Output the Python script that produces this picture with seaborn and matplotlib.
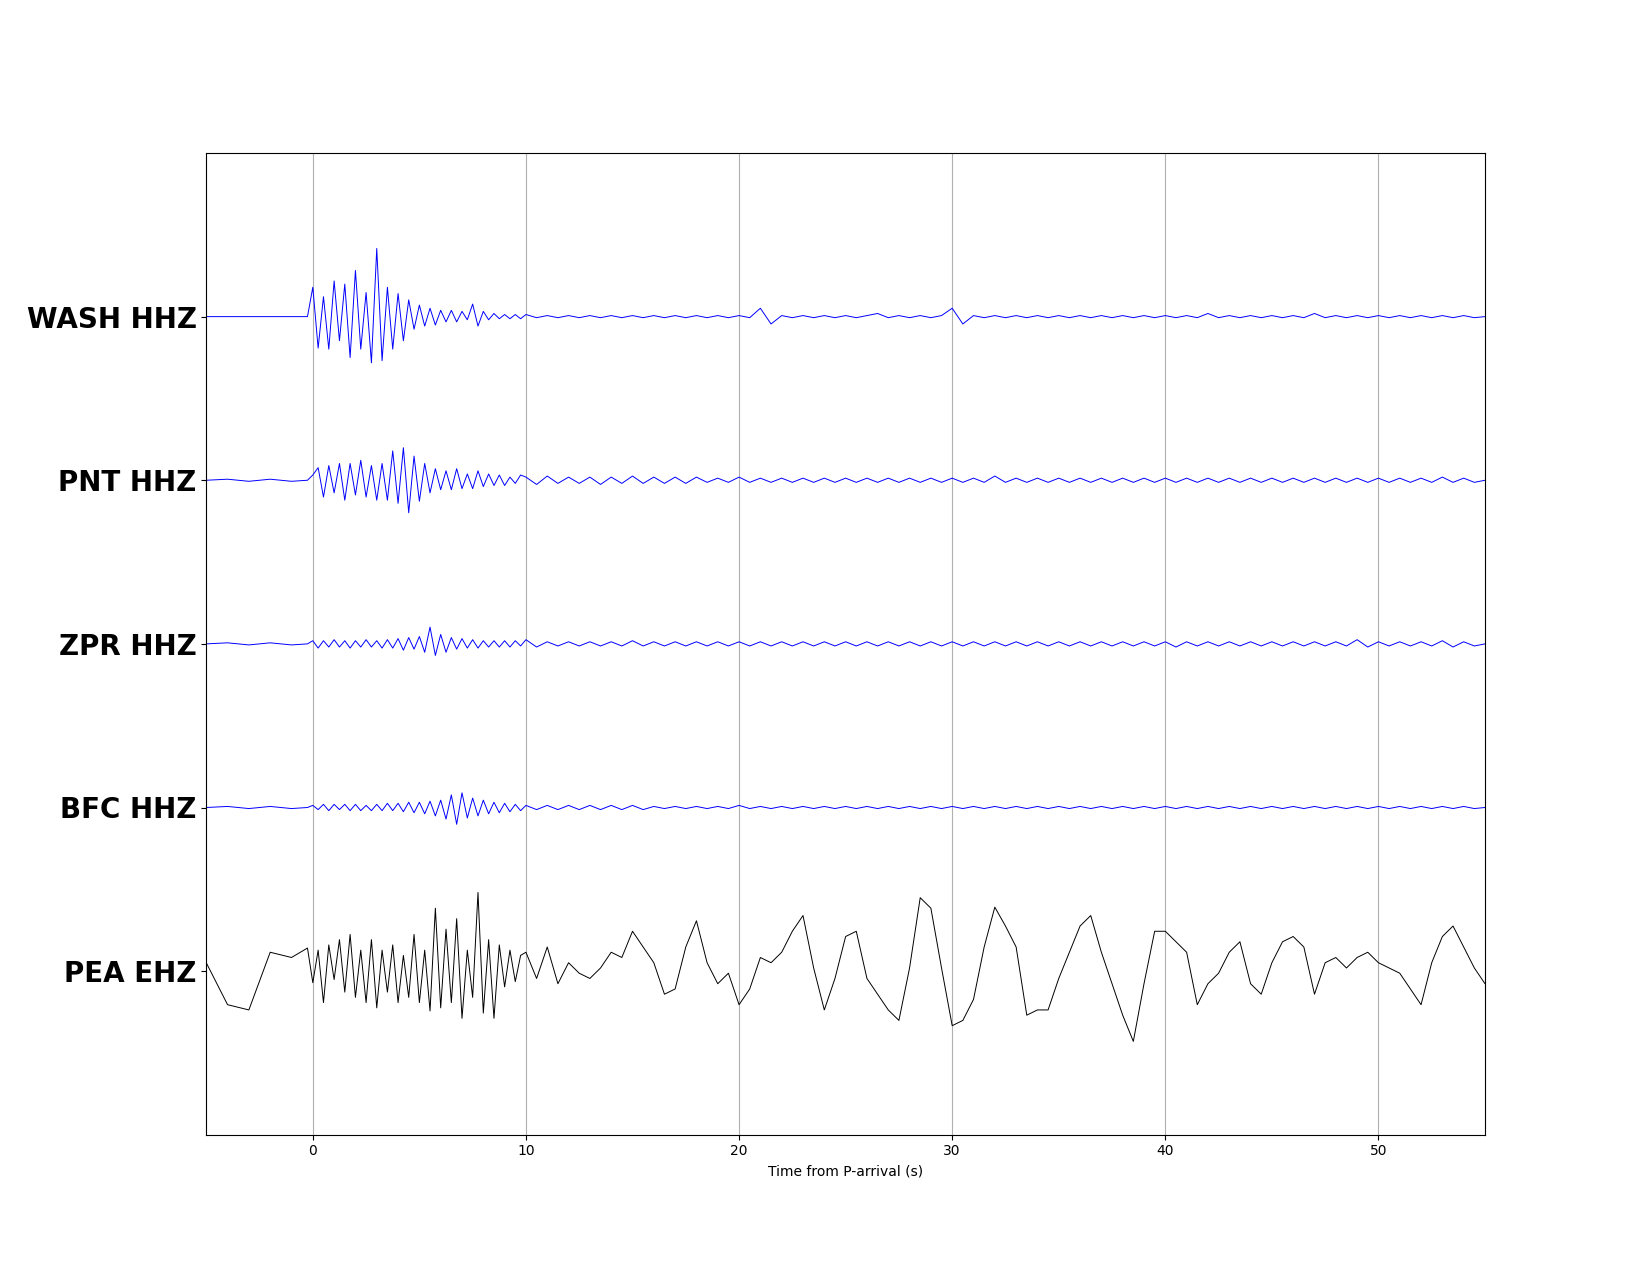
import numpy as np
import pandas as pd
import seaborn as sns
import matplotlib.pyplot as plt

sns.set_style("ticks")
plt.rcParams['font.family'] = ['DejaVu Sans']
plt.rcParams['text.color'] = 'black'
plt.rcParams['axes.labelcolor'] = 'black'
plt.rcParams['xtick.color'] = 'black'
plt.rcParams['ytick.color'] = 'black'

stations = ["WASH HHZ", "PNT HHZ", "ZPR HHZ", "BFC HHZ", "PEA EHZ"]
colors = ["blue", "blue", "blue", "blue", "black"]
amp_scale = 156.0  # counts per trace spacing

# active window 0-10 s sampled every 0.25 s (amplitudes in counts)
active_t = list(np.arange(0, 10, 0.25))
wash_active = [28, -30, 19, -31, 34, -23, 31, -39, 44, -31, 23, -44, 65, -42, 28, -31,
               22, -23, 16, -12, 11, -9, 8, -8, 6, -5, 6, -5, 5, -3, 12, -9,
               5, -3, 3, -2, 2, -2, 2, -2]
pnt_active = [5, 12, -16, 14, -12, 16, -19, 16, -14, 19, -16, 14, -19, 16, -19, 28,
              -22, 31, -31, 23, -20, 16, -12, 11, -9, 9, -9, 11, -8, 6, -8, 9,
              -6, 6, -5, 5, -5, 3, -3, 5]
zpr_active = [3, -4, 3, -3, 4, -3, 3, -4, 3, -3, 4, -3, 3, -4, 4, -4, 5, -6, 6, -5,
              7, -8, 16, -11, 9, -8, 6, -5, 5, -4, 4, -4, 3, -3, 3, -3, 3, -3, 3, -2]
bfc_active = [2, -2, 3, -3, 3, -2, 3, -3, 3, -3, 2, -3, 3, -3, 4, -3, 4, -4, 5, -5,
              5, -6, 6, -8, 7, -11, 12, -16, 14, -10, 9, -8, 7, -6, 5, -5, 4, -4, 3, -3]
pea_active = [-11, 20, -30, 25, -8, 30, -20, 35, -25, 20, -30, 30, -35, 20, -20, 25,
              -30, 15, -25, 35, -30, 20, -38, 60, -35, 40, -30, 50, -45, 20, -25, 75,
              -40, 30, -45, 25, -15, 20, -10, 15]

# quiet parts (times and counts)
pre_t = [-5, -4, -3, -2, -1, -0.25]
wash_pre = [0, 0, 0, 0, 0, 0]
pnt_pre = [0, 1, -1, 1, -1, 0]
zpr_pre = [0, 1, -1, 1, -1, 0]
bfc_pre = [0, 1, -1, 1, -1, 0]
pea_pre = [8, -32, -37, 18, 13, 22]

post_t = list(np.arange(10, 55.01, 0.5))
wash_post = [2, -1, 1, -1, 1, -1, 1, -1, 1, -1, 1, -1, 1, -1, 1, -1, 1, -1, 1, -1,
             1, -1, 8, -7, 1, -1, 1, -1, 1, -1, 1, -1, 1, 3, -1, 1, -1, 1, -1, 1,
             8, -7, 1, -1, 1, -1, 1, -1, 1, -1, 1, -1, 1, -1, 1, -1, 1, -1, 1, -1,
             1, -1, 1, -1, 3, -1, 1, -1, 1, -1, 1, -1, 1, -1, 3, -1, 1, -1, 1, -1,
             1, -1, 1, -1, 1, -1, 1, -1, 1, -1, 0]
pnt_post = [3, -4, 4, -3, 3, -3, 3, -4, 3, -3, 4, -3, 3, -3, 3, -3, 3, -2, 2, -2,
            3, -2, 2, -2, 2, -2, 2, -2, 2, -2, 2, -2, 2, -2, 2, -2, 2, -2, 2, -2,
            2, -2, 2, -2, 4, -2, 2, -2, 2, -2, 2, -2, 2, -2, 2, -2, 2, -2, 2, -2,
            2, -2, 2, -2, 2, -2, 2, -2, 2, -2, 2, -2, 2, -2, 2, -2, 2, -2, 2, -2,
            2, -2, 2, -2, 2, -2, 3, -2, 2, -2, 0]
zpr_post = [4, -3, 2, -2, 2, -2, 2, -2, 2, -2, 3, -2, 2, -2, 2, -2, 2, -2, 2, -2,
            2, -2, 2, -2, 2, -2, 2, -2, 2, -2, 2, -2, 2, -2, 2, -2, 2, -2, 2, -2,
            2, -2, 2, -2, 2, -2, 2, -2, 2, -2, 2, -2, 2, -2, 2, -2, 2, -2, 2, -2,
            2, -3, 2, -2, 2, -2, 2, -2, 2, -2, 2, -2, 2, -2, 2, -2, 2, -2, 4, -3,
            2, -2, 2, -2, 2, -2, 3, -3, 2, -2, 0]
bfc_post = [2, -2, 2, -2, 2, -2, 2, -2, 2, -2, 2, -2, 1, -1, 1, -1, 1, -1, 1, -1,
            2, -1, 1, -1, 1, -1, 1, -1, 1, -1, 1, -1, 1, -1, 1, -1, 1, -1, 1, -1,
            1, -1, 1, -1, 1, -1, 1, -1, 1, -1, 1, -1, 1, -1, 1, -1, 1, -1, 1, -1,
            1, -1, 1, -1, 1, -1, 1, -1, 1, -1, 1, -1, 1, -1, 1, -1, 1, -1, 1, -1,
            1, -1, 1, -1, 1, -1, 1, -1, 1, -1, 0]
pea_post = [18, -7, 23, -12, 8, -2, -7, 3, 18, 13, 38, 23, 8, -22, -17, 23, 48, 8, -12, -2,
            -32, -17, 13, 8, 18, 38, 53, 3, -37, -7, 33, 38, -7, -22, -37, -47, 3, 70, 60, 3,
            -52, -47, -27, 23, 61, 43, 23, -42, -37, -37, -7, 18, 43, 53, 18, -12, -42, -67, -12, 38,
            38, 28, 18, -32, -12, -2, 18, 28, -12, -22, 8, 28, 33, 23, -22, 8, 13, 3, 13, 18,
            8, 3, -2, -17, -32, 8, 33, 43, 23, 3, -12]

traces = {
    "WASH HHZ": (wash_pre, wash_active, wash_post),
    "PNT HHZ": (pnt_pre, pnt_active, pnt_post),
    "ZPR HHZ": (zpr_pre, zpr_active, zpr_post),
    "BFC HHZ": (bfc_pre, bfc_active, bfc_post),
    "PEA EHZ": (pea_pre, pea_active, pea_post),
}

fig = plt.figure(figsize=(16.5, 12.75), dpi=100)
ax = fig.add_axes([0.125, 0.11, 0.775, 0.77])

offsets = [4, 3, 2, 1, 0]
for name, off, col in zip(stations, offsets, colors):
    pre, act, post = traces[name]
    t = pre_t + active_t + post_t
    v = np.array(pre + act + post, dtype=float) / amp_scale + off
    df = pd.DataFrame({"t": t, "v": v})
    sns.lineplot(data=df, x="t", y="v", sort=False, color=col, lw=0.7, ax=ax)

ax.set_xlim(-5, 55)
ax.set_ylim(-1, 5)
ax.set_yticks(offsets)
ax.set_yticklabels(stations, fontsize=20, fontweight="bold")
ax.set_xticks([0, 10, 20, 30, 40, 50])
ax.tick_params(axis="x", labelsize=10)
ax.xaxis.grid(True, color="#b0b0b0", lw=0.8)
ax.yaxis.grid(False)
ax.set_xlabel("Time from P-arrival (s)", fontsize=10)
ax.set_ylabel("")
for s in ax.spines.values():
    s.set_visible(True)
    s.set_color("black")

fig.savefig("out.png", dpi=100)
